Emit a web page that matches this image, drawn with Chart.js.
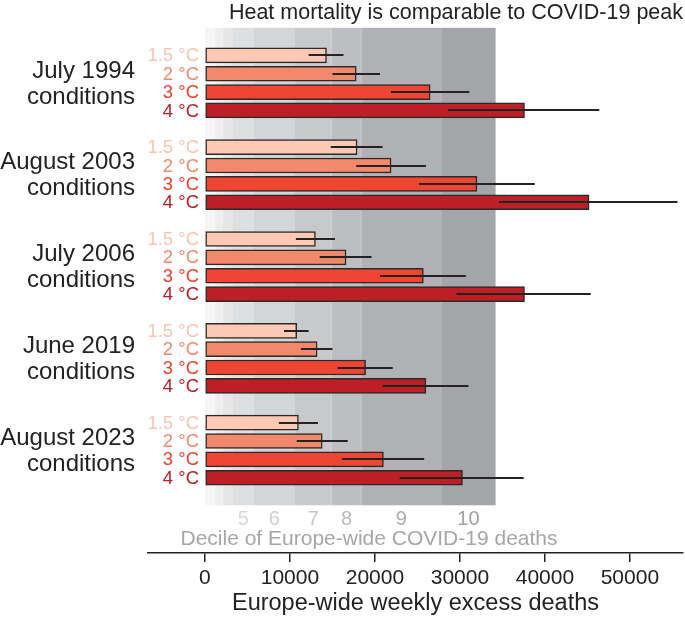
<!DOCTYPE html>
<html>
<head>
<meta charset="utf-8">
<script src="https://cdn.jsdelivr.net/npm/chart.js@4"></script>
<style>
  body { margin: 0; background: #fff; }
  canvas { display: block; }
</style>
</head>
<body>
<canvas id="heat-chart" width="685" height="619"></canvas>
<script>
const conditions = ["July 1994", "August 2003", "July 2006", "June 2019", "August 2023"];
const warmingLevels = ["1.5 °C", "2 °C", "3 °C", "4 °C"];

// central estimate and uncertainty range, one entry per condition
const deaths15 = [14300, 17900, 13000, 10800, 11000];
const low15 = [12200, 14800, 10700, 9300, 8700];
const high15 = [16300, 20900, 15300, 12200, 13300];

const deaths2 = [17800, 21900, 16600, 13200, 13800];
const low2 = [15000, 17800, 13500, 11300, 10800];
const high2 = [20600, 26000, 19600, 15000, 16800];

const deaths3 = [26500, 32000, 25700, 18900, 21000];
const low3 = [21900, 25200, 20600, 15600, 16100];
const high3 = [31100, 38800, 30700, 22100, 25800];

const deaths4 = [37600, 45200, 37600, 26000, 30300];
const low4 = [28600, 34600, 29600, 20900, 22900];
const high4 = [46400, 55600, 45400, 31000, 37500];

// COVID-19 weekly death deciles (band edges)
const decileEdges = [0, 1200, 2100, 3300, 5700, 10600, 14900, 18400, 27800, 34200];
const decileLabels = ["", "", "", "5", "6", "7", "8", "9", "10"];
const xTicks = [0, 10000, 20000, 30000, 40000, 50000];

const barColors = ["#fdc9b4", "#f3896b", "#ef4533", "#bc1f25"];
const labelColors = ["#f9c4b0", "#f08a6d", "#e8432f", "#b3202a"];
const bandColors = ["#f6f6f7", "#eeeeef", "#e6e6e7", "#dedfe0", "#d4d5d7", "#c8c9cb", "#bdbec1", "#b0b1b4", "#a4a5a8"];
const decileTextColors = ["", "", "", "#d9d9d9", "#cfcfcf", "#c4c4c4", "#bababa", "#acacac", "#a0a0a0"];

const allDeaths = [deaths15, deaths2, deaths3, deaths4];
const allLow = [low15, low2, low3, low4];
const allHigh = [high15, high2, high3, high4];

// each condition takes 5 rows: 4 bars + a gap
const slot = (g, w) => g * 5 + w;

const datasets = warmingLevels.map((lvl, w) => ({
  label: lvl,
  data: conditions.map((c, g) => ({ x: allDeaths[w][g], y: slot(g, w) })),
  backgroundColor: barColors[w],
  borderColor: "#2a2a2a",
  borderWidth: 1.5,
  borderSkipped: false,
  barThickness: 15,
  grouped: false,
}));

const FONT = "'Liberation Sans', Arial, sans-serif";

const extras = {
  id: "extras",
  beforeDatasetsDraw(chart) {
    const { ctx } = chart;
    const x = chart.scales.x, y = chart.scales.y;
    const top = y.getPixelForValue(-1.5);
    const bottom = y.getPixelForValue(24.5);
    ctx.save();
    for (let i = 0; i < bandColors.length; i++) {
      const x0 = x.getPixelForValue(decileEdges[i]);
      const x1 = x.getPixelForValue(decileEdges[i + 1]);
      ctx.fillStyle = bandColors[i];
      ctx.fillRect(x0, top, x1 - x0, bottom - top);
    }
    ctx.restore();
  },
  afterDatasetsDraw(chart) {
    const { ctx } = chart;
    const x = chart.scales.x, y = chart.scales.y;
    ctx.save();
    // error bars
    ctx.strokeStyle = "#232323";
    ctx.lineWidth = 2;
    for (let w = 0; w < warmingLevels.length; w++) {
      for (let g = 0; g < conditions.length; g++) {
        const py = Math.round(y.getPixelForValue(slot(g, w)));
        ctx.beginPath();
        ctx.moveTo(x.getPixelForValue(allLow[w][g]), py);
        ctx.lineTo(x.getPixelForValue(allHigh[w][g]), py);
        ctx.stroke();
      }
    }
    // warming level labels
    ctx.textAlign = "right";
    ctx.textBaseline = "middle";
    for (let g = 0; g < conditions.length; g++) {
      ctx.font = "18.5px " + FONT;
      for (let w = 0; w < warmingLevels.length; w++) {
        ctx.fillStyle = labelColors[w];
        ctx.fillText(warmingLevels[w], 199, y.getPixelForValue(slot(g, w)) + 1);
      }
      // condition labels
      const mid = y.getPixelForValue(slot(g, 1.5));
      ctx.fillStyle = "#222";
      ctx.font = "24px " + FONT;
      ctx.fillText(conditions[g], 135, mid - 12);
      ctx.fillText("conditions", 135, mid + 14);
    }
    // decile labels
    ctx.textAlign = "center";
    ctx.font = "20px " + FONT;
    const ly = y.getPixelForValue(24.5) + 14;
    for (let i = 0; i < decileLabels.length; i++) {
      if (!decileLabels[i]) continue;
      ctx.fillStyle = decileTextColors[i];
      const cx = (x.getPixelForValue(decileEdges[i]) + x.getPixelForValue(decileEdges[i + 1])) / 2;
      ctx.fillText(decileLabels[i], cx, ly);
    }
    ctx.fillStyle = "#a6a6a6";
    ctx.font = "21px " + FONT;
    ctx.fillText("Decile of Europe-wide COVID-19 deaths", 369, ly + 20);
    ctx.restore();
  },
};

new Chart(document.getElementById("heat-chart"), {
  type: "bar",
  data: { datasets },
  plugins: [extras],
  options: {
    indexAxis: "y",
    responsive: false,
    animation: false,
    devicePixelRatio: 1,
    layout: { padding: { left: 148, right: 2, top: 0, bottom: 0 } },
    plugins: {
      legend: { display: false },
      tooltip: { enabled: false },
      title: {
        display: true,
        text: "Heat mortality is comparable to COVID-19 peak",
        align: "end",
        color: "#222",
        font: { family: FONT, size: 21.5, weight: "normal" },
        padding: { top: 0, bottom: 2 },
      },
    },
    scales: {
      y: {
        type: "linear",
        reverse: true,
        min: -1.5,
        max: 27.1,
        offset: false,
        display: false,
      },
      x: {
        type: "linear",
        min: -6700,
        max: 56250,
        afterBuildTicks: (s) => { s.ticks = xTicks.map((v) => ({ value: v })); },
        afterFit: (s) => { s.height = 66; },
        grid: {
          drawOnChartArea: false,
          drawTicks: true,
          tickLength: 9,
          color: "#222",
          lineWidth: 1.5,
          offset: false,
        },
        border: { display: true, color: "#222", width: 1.5 },
        ticks: {
          color: "#222",
          padding: 4,
          font: { family: FONT, size: 21 },
          callback: (v) => String(v),
        },
        title: {
          display: true,
          text: "Europe-wide weekly excess deaths",
          color: "#222",
          font: { family: FONT, size: 23.5 },
          padding: { top: 0, bottom: 1 },
        },
      },
    },
  },
});
</script>
</body>
</html>
